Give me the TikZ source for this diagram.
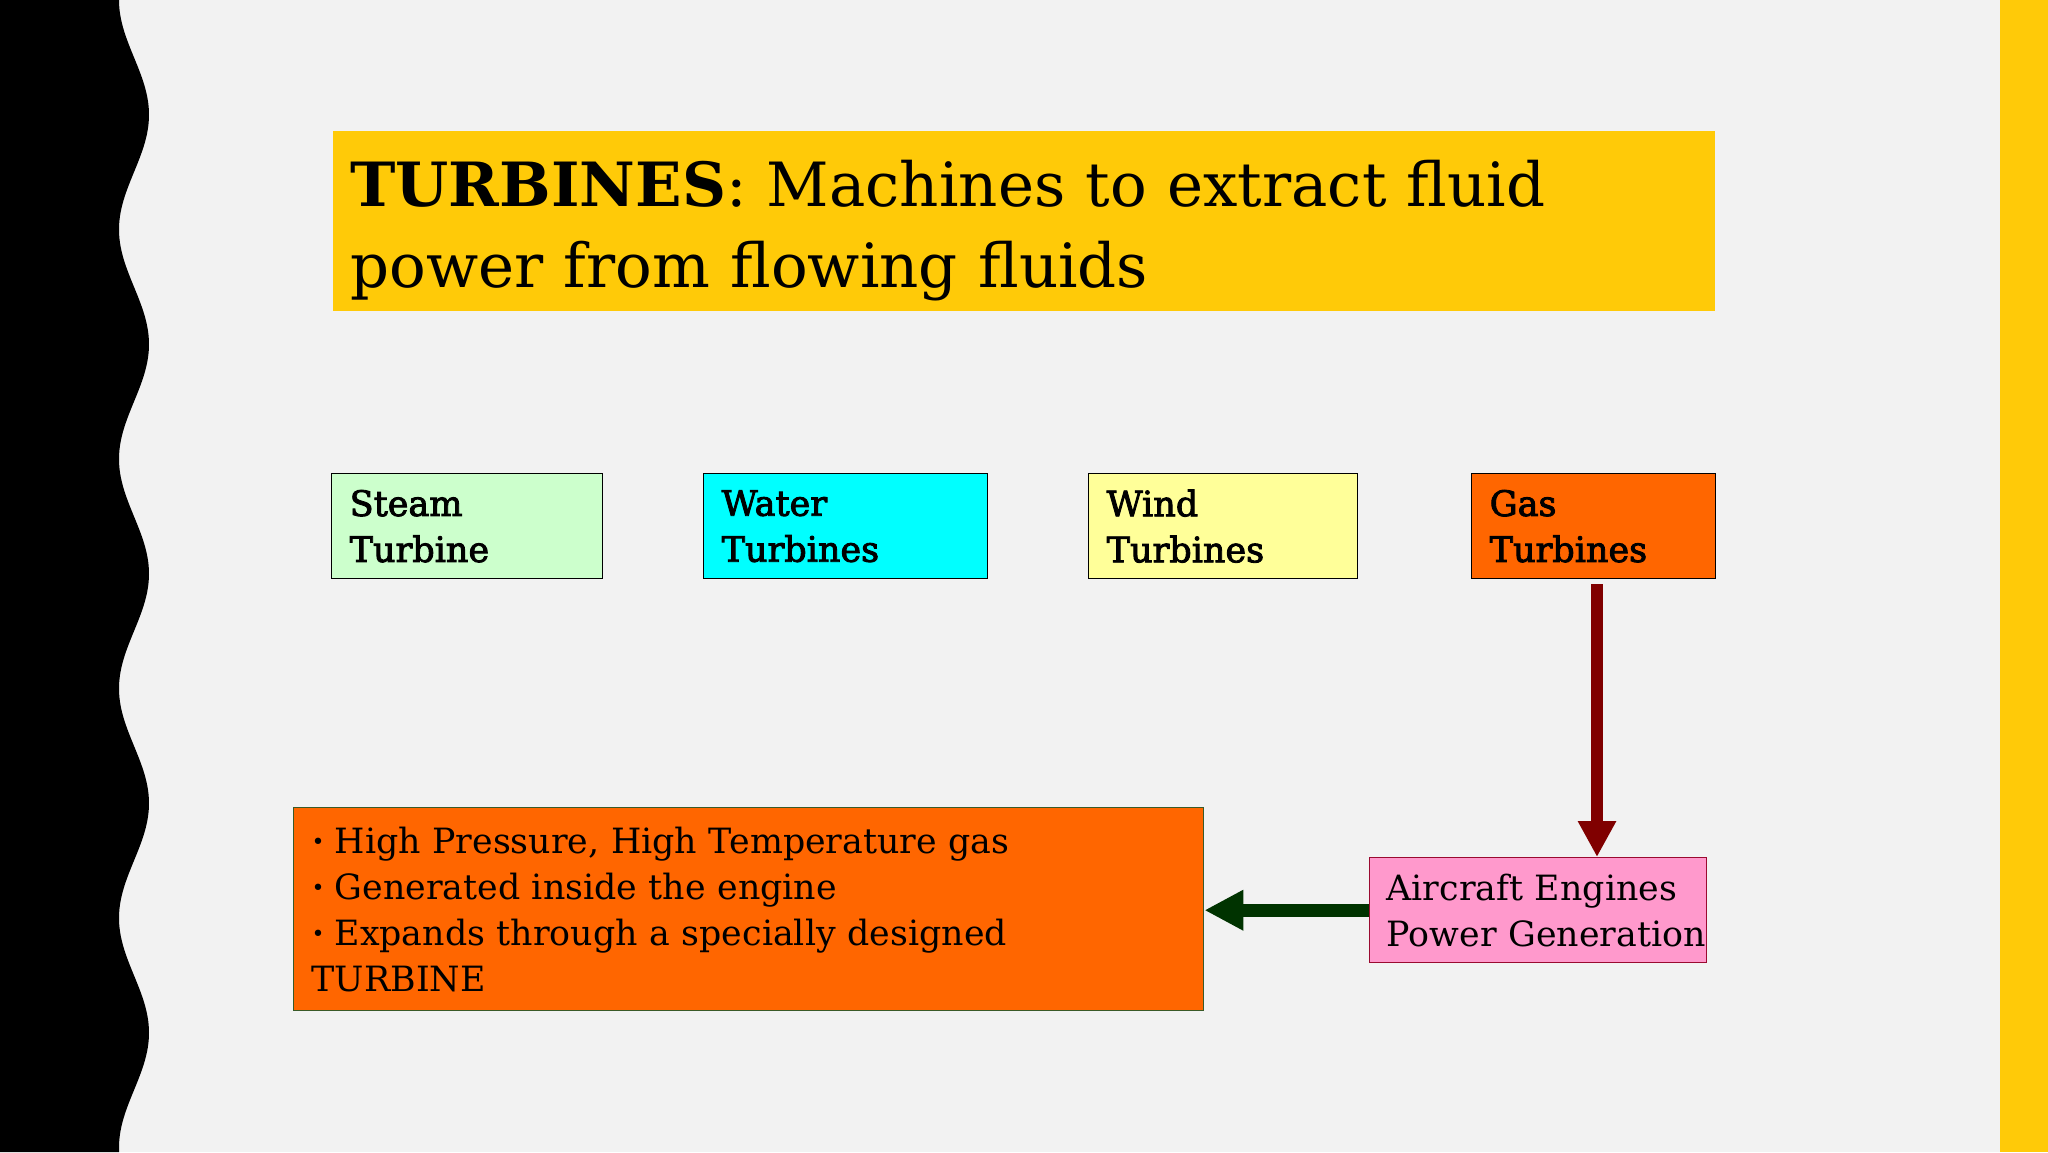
\documentclass[tikz,border=0pt]{standalone}
\usepackage{fontspec}
\setmainfont{DejaVu Serif}
\newfontfamily\boxfont[FakeBold=2.5]{DejaVu Serif}
\usetikzlibrary{arrows.meta}
\definecolor{bg}{HTML}{F2F2F2}
\definecolor{gold}{HTML}{FFCA08}
\definecolor{steamc}{HTML}{CCFFCC}
\definecolor{waterc}{HTML}{00FFFF}
\definecolor{windc}{HTML}{FFFF99}
\definecolor{gasc}{HTML}{FF6600}
\definecolor{pinkc}{HTML}{FF99CC}
\definecolor{pinkline}{HTML}{9A0A30}
\definecolor{greenline}{HTML}{3A5A28}
\definecolor{redarrow}{HTML}{800000}
\definecolor{greenarrow}{HTML}{003300}
\tikzset{
  typebox/.style={draw=black, line width=0.7pt, anchor=north west, align=left,
    minimum height=52.5pt, inner xsep=9pt, inner ysep=0pt,
    font=\boxfont\fontsize{17.5}{23}\selectfont},
  infobox/.style={line width=0.7pt, anchor=north west, align=left, inner ysep=0pt,
    font=\fontsize{17.4}{23}\selectfont}
}
\newcommand{\bul}{{\fontsize{11}{11}\selectfont\raisebox{2pt}{•}}\hspace{5pt}}
\begin{document}
\begin{tikzpicture}[x=0.5pt,y=-0.5pt]
\useasboundingbox (0,0) rectangle (2048,1152);
\fill[bg] (0,0) rectangle (2048,1152);
\fill[gold] (2000,0) rectangle (2048,1152);
\fill[black] (0,0) -- plot[domain=0:1152, samples=300, variable=\t] ({134-15*cos(\t*1.5686)}, \t) -- (0,1152) -- cycle;

\node[fill=gold, anchor=north west, minimum width=691pt, minimum height=90pt,
  text width=674pt, inner xsep=8.5pt, inner ysep=0pt, align=left,
  font=\fontsize{30.5}{40.5}\selectfont] (title) at (333,131)
  {\rule{0pt}{32.2pt}\textbf{TURBINES}: Machines to extract fluid\\power from flowing fluids};

\node[typebox, fill=steamc, minimum width=135.5pt, text width=117.5pt] (steam) at (331,473) {Steam\\Turbine};
\node[typebox, fill=waterc, minimum width=142pt, text width=124pt] (water) at (703,473) {Water\\Turbines};
\node[typebox, fill=windc, minimum width=134.5pt, text width=116.5pt] (wind) at (1088,473) {Wind\\Turbines};
\node[typebox, fill=gasc, minimum width=122pt, text width=104pt] (gas) at (1471,473) {Gas\\Turbines};

\node[infobox, draw=pinkline, fill=pinkc, minimum width=168.5pt, minimum height=52.5pt,
  text width=151.5pt, inner xsep=8.5pt] (pink) at (1369,857) {\mbox{Aircraft Engines}\\\mbox{Power Generation}};

\node[infobox, draw=greenline, fill=gasc, minimum width=455pt, minimum height=101.5pt,
  text width=437pt, inner xsep=9pt] (info) at (293,807)
  {\bul High Pressure, High Temperature gas\\\bul Generated inside the engine\\\bul Expands through a specially designed\\TURBINE};

\coordinate (rx) at (1597,0);
\draw[redarrow, line width=6pt, -{Triangle[width=18pt,length=18pt]}, shorten <=2.5pt]
  (gas.south -| rx) -- (pink.north -| rx);
\draw[greenarrow, line width=6.5pt, -{Triangle[width=19pt,length=19.5pt]}]
  (pink.west) -- (info.east |- pink.west);
\end{tikzpicture}
\end{document}
